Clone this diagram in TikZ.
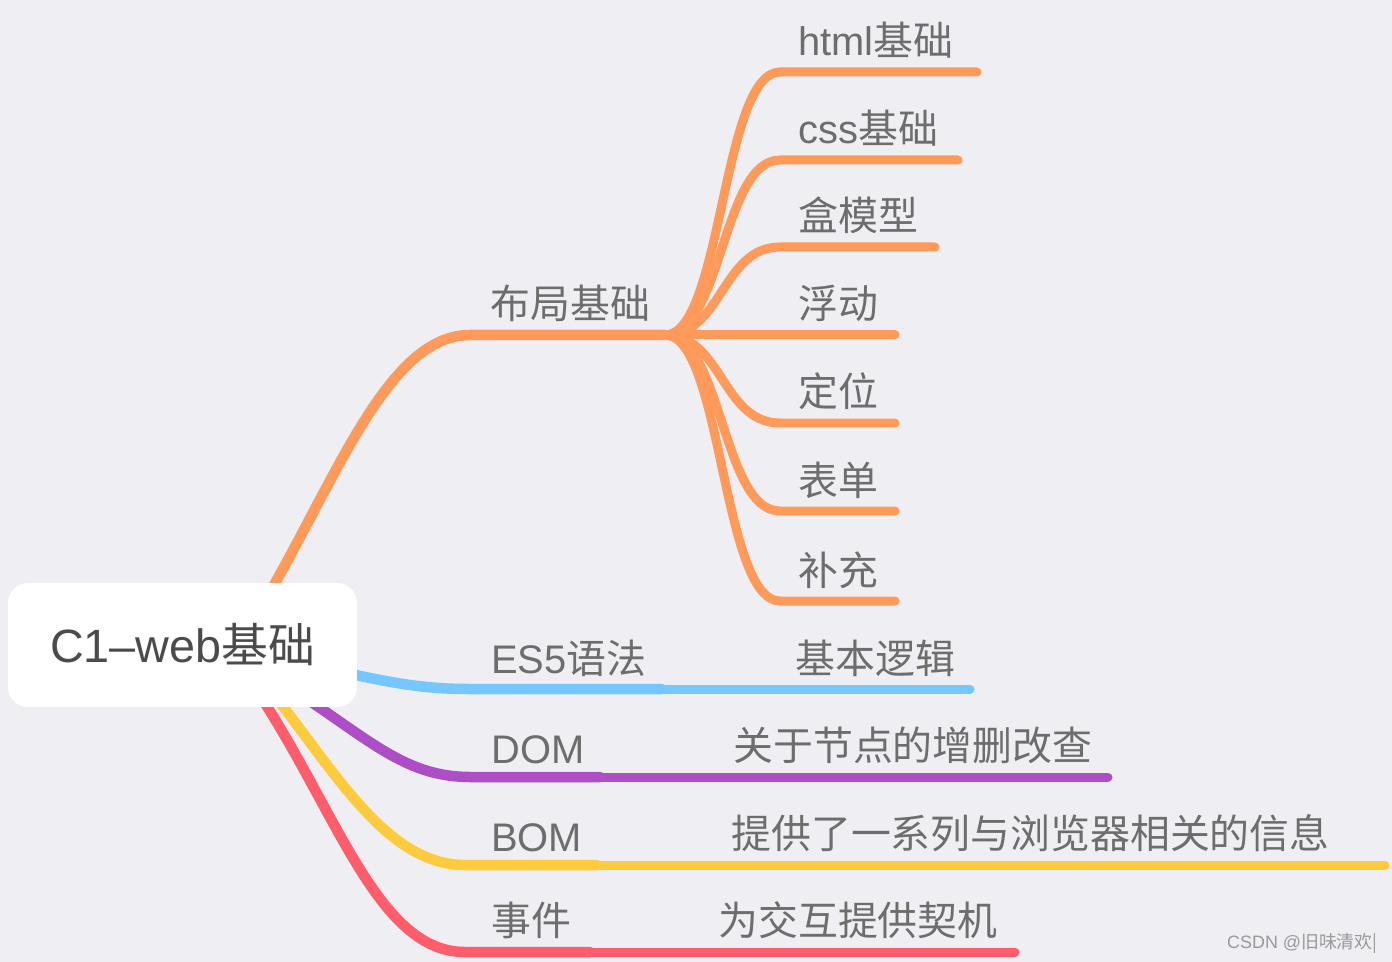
\documentclass[tikz,border=0pt]{standalone}
\usepackage{fontspec}
\setmainfont{Noto Sans CJK SC}
\newfontfamily\lat{Liberation Sans}
\usetikzlibrary{calc,backgrounds}
\definecolor{bgcol}{HTML}{EFEEF3}
\definecolor{rootgray}{HTML}{4B4B4B}
\definecolor{labelgray}{HTML}{6D6D6D}
\definecolor{brorange}{HTML}{FF9A5B}
\definecolor{brblue}{HTML}{74C7FF}
\definecolor{brpurple}{HTML}{AD4EC6}
\definecolor{bryellow}{HTML}{FFCB3E}
\definecolor{brred}{HTML}{FF5C6C}

\begin{document}
\begin{tikzpicture}[x=0.02cm,y=-0.02cm,
  lbl/.style={anchor=base west,inner sep=0pt,text=labelgray,font=\fontsize{22.7}{26}\selectfont},
  branch/.style={line width=0.21cm,line cap=round},
  twig/.style={line width=0.18cm,line cap=round}]

\node[fill=white,rounded corners=0.4cm,minimum width=6.98cm,minimum height=2.48cm,
  text=rootgray,font=\fontsize{26.6}{30}\selectfont] (root) at (182.5,645) {{\lat C1–web}基础};

% main branches
\node[lbl] (layout) at (490,319) {布局基础};
\node[lbl] (es5) at (491,673) {{\lat ES5}语法};
\node[lbl] (dom) at (491,763) {\lat DOM};
\node[lbl] (bom) at (491,851) {\lat BOM};
\node[lbl] (event) at (491,935) {事件};
\coordinate (layout-out) at (665,335);
\coordinate (es5-out) at (662,689);
\coordinate (dom-out) at (600,777);
\coordinate (bom-out) at (597,865);
\coordinate (event-out) at (590,952);

% leaves
\node[lbl] (logic) at (795,673) {基本逻辑};
\node[lbl] (nodes) at (733,760) {关于节点的增删改查};
\node[lbl] (info) at (731,848) {提供了一系列与浏览器相关的信息};
\node[lbl] (inter) at (718,935) {为交互提供契机};
\coordinate (logic-end) at (970,689);
\coordinate (nodes-end) at (1108,777);
\coordinate (info-end) at (1385,865);
\coordinate (inter-end) at (1015,952);

\node[anchor=base east,inner sep=0pt,text=black!40,font=\fontsize{10.2}{12}\selectfont]
  (mark) at (1378,948) {{\lat CSDN @}旧味清欢|};

\begin{pgfonlayer}{background}
\fill[bgcol] (0,0) rectangle (1392,962);

\draw[branch,brorange] ($(root.north)+(86,12)$) .. controls (340,470) and (390,335) .. (470,335) -- (layout-out);
\foreach \name/\y/\x/\txt in {html/72/977/{\lat html}基础, css/160/958/{\lat css}基础, box/247/935/盒模型,
    float/335/895/浮动, pos/423/895/定位, form/511/895/表单, more/601/895/补充} {
  \node[lbl] (\name) at (798,{\y-16}) {\txt};
  \coordinate (\name-end) at (\x,\y);
  \draw[twig,brorange] (layout-out) .. controls (722,335) and (722,\y) .. (780,\y) -- (\name-end);
}

\draw[branch,brblue] ($(root.east)+(-15,27)$) .. controls (400,685) and (430,689) .. (470,689) -- (es5-out);
\draw[twig,brblue] (es5-out) -- (logic-end);

\draw[branch,brpurple] ($(root.south)+(125,-8)$) .. controls (375,745) and (410,777) .. (470,777) -- (dom-out);
\draw[twig,brpurple] (dom-out) -- (nodes-end);

\draw[branch,bryellow] ($(root.south)+(95,-8)$) .. controls (340,780) and (390,865) .. (465,865) -- (bom-out);
\draw[twig,bryellow] (bom-out) -- (info-end);

\draw[branch,brred] ($(root.south)+(80,-8)$) .. controls (340,820) and (380,952) .. (465,952) -- (event-out);
\draw[twig,brred] (event-out) -- (inter-end);
\end{pgfonlayer}

\useasboundingbox (0,0) rectangle (1392,962);
\end{tikzpicture}
\end{document}
